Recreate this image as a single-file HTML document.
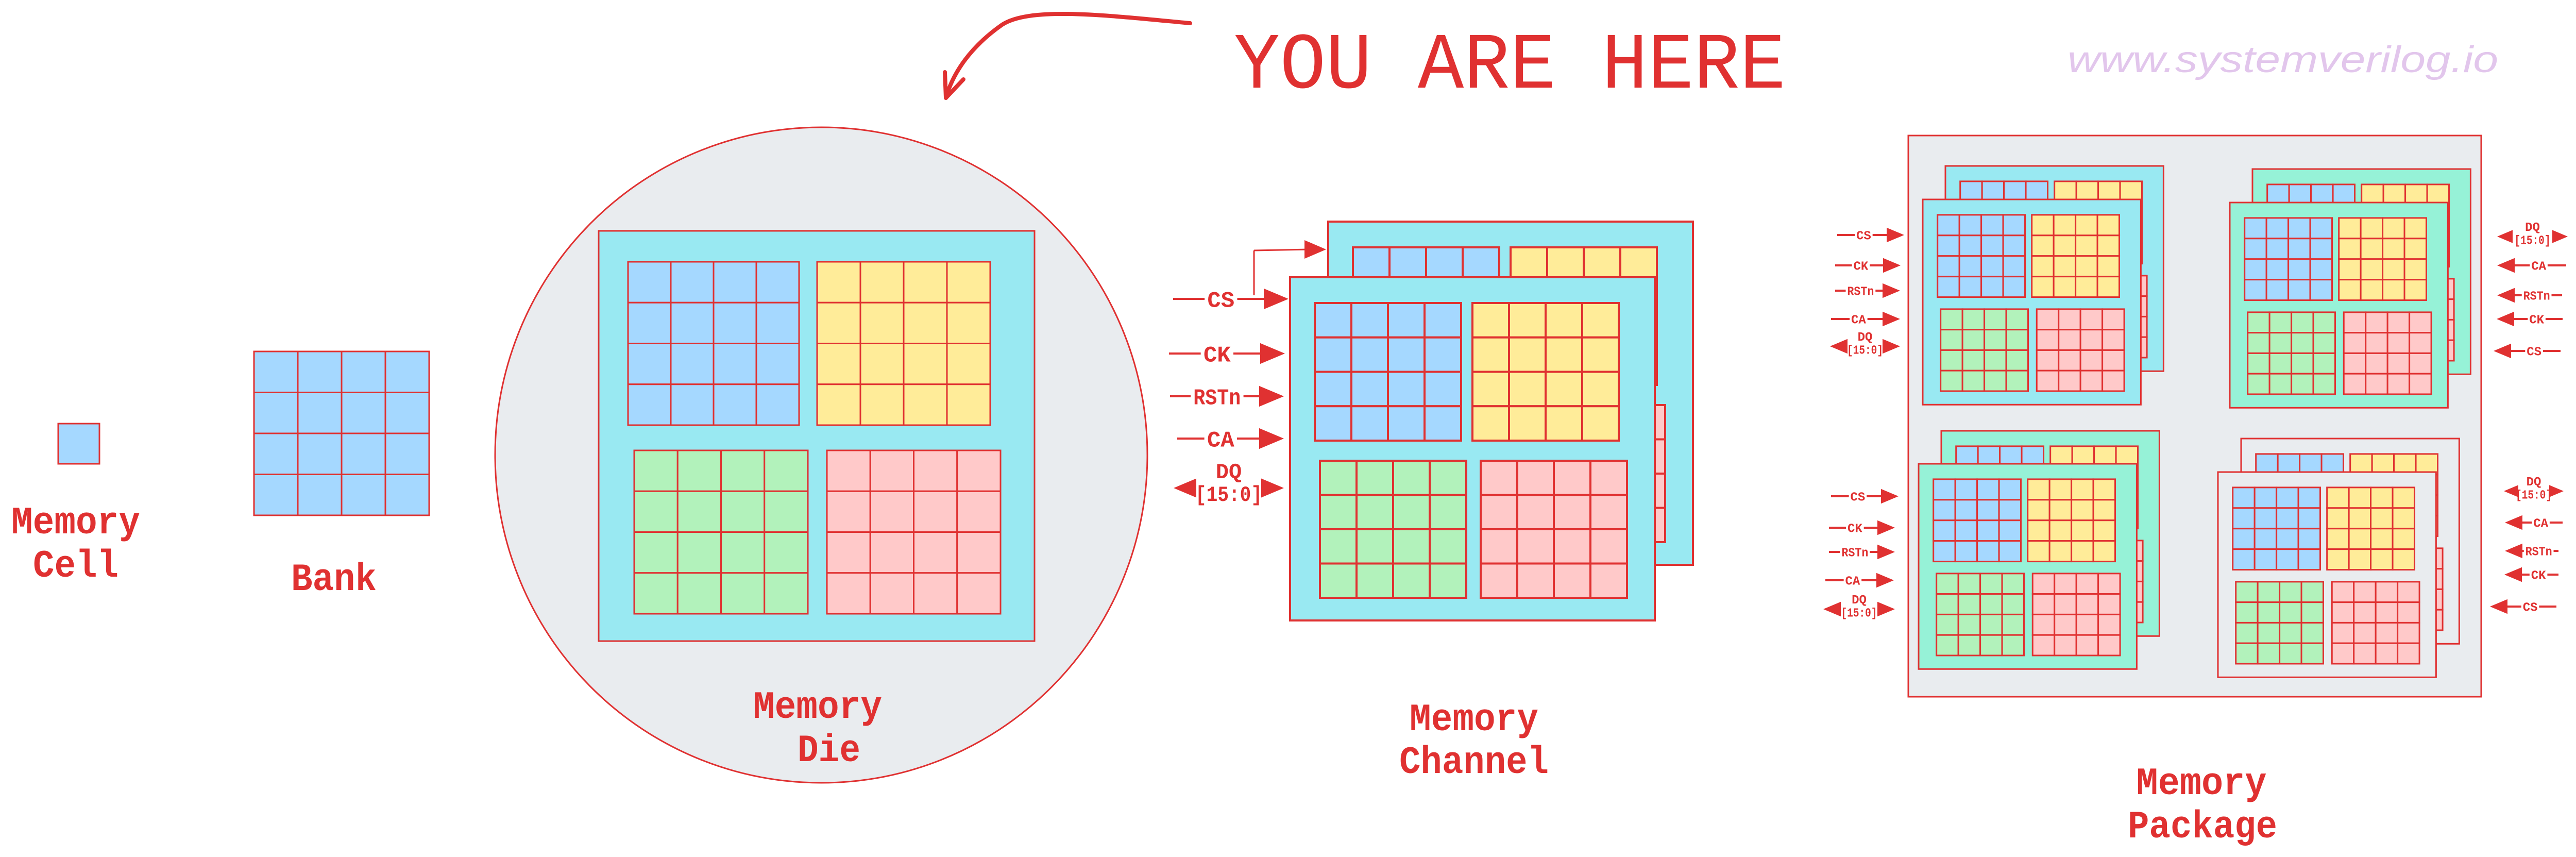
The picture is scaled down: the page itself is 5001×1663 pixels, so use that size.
<!DOCTYPE html>
<html><head><meta charset="utf-8"><style>
html,body{margin:0;padding:0;background:#fff;}
svg{display:block;}
.lbl{font-family:"Liberation Mono",monospace;fill:#e03131;font-weight:bold;}
.sig{font-family:"Liberation Mono",monospace;fill:#e03131;font-weight:bold;}
</style></head><body>
<svg id="s" width="5001" height="1663" viewBox="0 0 5001 1663" xmlns="http://www.w3.org/2000/svg">
<g id="shapes"></g>
<g id="lines" stroke="#e03131" stroke-width="4" fill="#e03131"></g>
<text class="lbl" x="2395" y="170" font-size="155" textLength="1071" lengthAdjust="spacingAndGlyphs" style="font-weight:normal">YOU ARE HERE</text>
<text x="4013" y="140" font-family="Liberation Sans,sans-serif" font-style="italic" font-size="72" fill="#e2c6ec" textLength="836" lengthAdjust="spacingAndGlyphs">www.systemverilog.io</text>
<text class="lbl" x="147" y="1035" font-size="75" text-anchor="middle" textLength="250" lengthAdjust="spacingAndGlyphs">Memory</text>
<text class="lbl" x="147" y="1119" font-size="75" text-anchor="middle" textLength="166" lengthAdjust="spacingAndGlyphs">Cell</text>
<text class="lbl" x="648" y="1145" font-size="75" text-anchor="middle" textLength="166" lengthAdjust="spacingAndGlyphs">Bank</text>
<text class="lbl" x="1587" y="1393" font-size="75" text-anchor="middle" textLength="250" lengthAdjust="spacingAndGlyphs">Memory</text>
<text class="lbl" x="1609" y="1477" font-size="75" text-anchor="middle" textLength="122" lengthAdjust="spacingAndGlyphs">Die</text>
<text class="lbl" x="2861" y="1417" font-size="75" text-anchor="middle" textLength="250" lengthAdjust="spacingAndGlyphs">Memory</text>
<text class="lbl" x="2861" y="1500" font-size="75" text-anchor="middle" textLength="290" lengthAdjust="spacingAndGlyphs">Channel</text>
<text class="lbl" x="4273" y="1541" font-size="75" text-anchor="middle" textLength="253" lengthAdjust="spacingAndGlyphs">Memory</text>
<text class="lbl" x="4275" y="1625" font-size="75" text-anchor="middle" textLength="290" lengthAdjust="spacingAndGlyphs">Package</text>
<g id="sigs"></g>
</svg>
<script>
var NS="http://www.w3.org/2000/svg";
var S=document.getElementById('shapes'),L=document.getElementById('lines'),G=document.getElementById('sigs');
function el(p,t,a){var e=document.createElementNS(NS,t);for(var k in a)e.setAttribute(k,a[k]);p.appendChild(e);return e;}
function rect(x,y,w,h,f,sw){el(S,'rect',{x:x,y:y,width:w,height:h,fill:f,stroke:'#e03131','stroke-width':sw||3});}
function grid(x,y,w,h,f,sw){var cw=w/4,ch=h/4;for(var i=0;i<4;i++)for(var j=0;j<4;j++)rect(x+j*cw,y+i*ch,cw,ch,f,sw);}
var B='#a5d8ff',Y='#ffec99',Gr='#b2f2bb',P='#ffc9c9',C='#99e9f2',M='#96f2d7',GY='#e9ecef';
rect(113,822,80,78,B);
grid(493,682,340,318,B);
el(S,'ellipse',{cx:1594,cy:883,rx:633,ry:636,fill:GY,stroke:'#e03131','stroke-width':3});
rect(1162,448,846,796,C);
grid(1219,508,332,317,B);grid(1586,508,336,317,Y);grid(1231,874,337,317,Gr);grid(1605,874,337,317,P);
function chip(x,y,s,f,sw){rect(x,y,708*s,666*s,f,sw);
grid(x+48*s,y+50*s,284*s,267*s,B,sw);grid(x+354*s,y+50*s,284*s,267*s,Y,sw);
grid(x+58*s,y+356*s,284*s,266*s,Gr,sw);grid(x+370*s,y+356*s,284*s,266*s,P,sw);}
chip(2578,430,1,C,4);chip(2504,538,1,C,4);
rect(3704,263,1112,1089,GY,3);
var s=0.598;
chip(3776,322,s,C,3);chip(3732,387,s,C,3);
chip(4372,328,s,M,3);chip(4328,393,s,M,3);
chip(3768,836,s,M,3);chip(3724,900,s,M,3);
chip(4350,851,s,GY,3);chip(4305,916,s,GY,3);
function tri(tx,ty,dir,len,hw){el(L,'polygon',{points:tx+','+ty+' '+(tx-dir*len)+','+(ty-hw)+' '+(tx-dir*len)+','+(ty+hw),stroke:'none'});}
function line(x1,y1,x2,y2,w){el(L,'line',{x1:x1,y1:y1,x2:x2,y2:y2,'stroke-width':w||4});}
function txt(x,y,t,fs,tl){var e=el(G,'text',{x:x,y:y,'font-size':fs,'text-anchor':'middle','class':'sig'});if(tl){e.setAttribute('textLength',tl);e.setAttribute('lengthAdjust','spacingAndGlyphs');}e.textContent=t;}
function sig(x0,tip,y,lab,dir,fs,al,tl){
  var cx=(x0+tip)/2-dir*al*0.4;
  var w=(tl||lab.length*fs*0.6)/2+fs*0.12;
  var end=tip-dir*al*0.8;
  var a=Math.min(x0,end),b=Math.max(x0,end);
  line(a,y,cx-w,y);line(cx+w,y,b,y);
  tri(tip,y,dir,al,al*0.42);txt(cx,y+fs*0.35,lab,fs,tl);}
function dq(l,r,y,fs,al,tl){tri(l,y,-1,al,al*0.42);tri(r,y,1,al,al*0.42);txt((l+r)/2,y-fs*0.45,'DQ',fs);txt((l+r)/2,y+fs*0.6,'[15:0]',fs,tl);}
sig(2277,2501,580,'CS',1,44,48);
line(2434,573,2434,486,3);line(2434,486,2540,484,3);tri(2574,484,1,42,18);
sig(2269,2494,686,'CK',1,44,48);
sig(2271,2492,769,'RSTn',1,44,48,92);
sig(2285,2492,851,'CA',1,44,48);
dq(2278,2492,947,42,44,130);
sig(3566,3696,456,'CS',1,24,34);sig(3562,3689,515,'CK',1,24,34);sig(3562,3688,564,'RSTn',1,24,34,52);sig(3554,3688,619,'CA',1,24,34);dq(3552,3688,672,24,34,70);
sig(3554,3685,963,'CS',1,24,34);sig(3550,3678,1024,'CK',1,24,34);sig(3550,3678,1071,'RSTn',1,24,34,52);sig(3543,3676,1126,'CA',1,24,34);dq(3539,3678,1182,24,34,70);
dq(4847,4984,459,24,30,70);
sig(4981,4847,515,'CA',-1,24,34);sig(4973,4847,573,'RSTn',-1,24,34,52);sig(4974,4846,619,'CK',-1,24,34);sig(4970,4840,681,'CS',-1,24,34);
dq(4860,4976,953,24,28,70);
sig(4974,4862,1014,'CA',-1,24,34);sig(4966,4862,1069,'RSTn',-1,24,34,52);sig(4966,4861,1115,'CK',-1,24,34);sig(4962,4833,1177,'CS',-1,24,34);
el(L,'path',{d:'M2310,45 C2150,30 2000,12 1945,48 C1885,90 1850,140 1836,190',fill:'none','stroke-width':8,'stroke-linecap':'round'});
el(L,'path',{d:'M1834,140 L1836,190 L1870,154',fill:'none','stroke-width':8,'stroke-linecap':'round','stroke-linejoin':'round'});
</script>
</body></html>
